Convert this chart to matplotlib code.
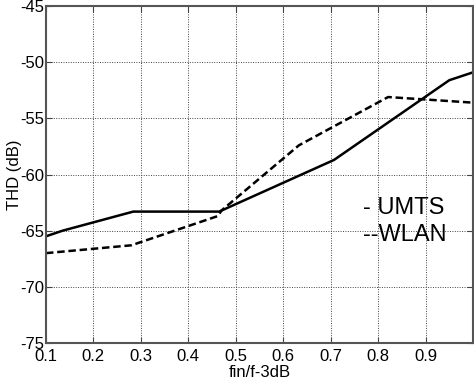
import matplotlib
matplotlib.use("Agg")
import matplotlib.pyplot as plt

plt.rcParams['font.family'] = ['Liberation Sans', 'DejaVu Sans']

umts_x = [0.1, 0.135, 0.284, 0.465, 0.707, 0.95, 1.0]
umts_y = [-65.5, -65.0, -63.3, -63.3, -58.7, -51.6, -50.9]

wlan_x = [0.1, 0.28, 0.462, 0.47, 0.633, 0.821, 1.0]
wlan_y = [-67.0, -66.3, -63.7, -63.2, -57.4, -53.1, -53.6]

xticks = [0.1, 0.2, 0.3, 0.4, 0.5, 0.6, 0.7, 0.8, 0.9]
yticks = [-75, -70, -65, -60, -55, -50, -45]

fig = plt.figure(figsize=(4.74, 3.79), dpi=100)
ax = fig.add_axes([0.097, 0.095, 0.901, 0.889])
ax.plot(umts_x, umts_y, color='black', lw=1.8, solid_joinstyle='miter')
ax.plot(wlan_x, wlan_y, color='black', lw=1.8, linestyle=(0, (3, 1.5)))
ax.set_xlim(0.1, 1.0)
ax.set_ylim(-75, -45)
ax.set_xticks(xticks)
ax.set_xticklabels([f"{t:.1f}" for t in xticks])
ax.set_yticks(yticks)
ax.set_yticklabels([str(t) for t in yticks])
ax.grid(True, linestyle=(0, (1, 1.5)), color='#444444', lw=0.7)
ax.tick_params(direction='in', length=4, labelsize=12, right=True, top=True, color='#444444')
ax.tick_params(axis='x', pad=4)
ax.tick_params(axis='y', pad=1)
for s in ax.spines.values():
    s.set_color('#555555')
    s.set_linewidth(1.5)
ax.set_xlabel('fin/f-3dB', fontsize=12, labelpad=1)
ax.set_ylabel('THD (dB)', fontsize=12, labelpad=-1)
ax.text(0.742, 0.40, '- UMTS', transform=ax.transAxes, fontsize=17, va='center', ha='left')
ax.text(0.742, 0.32, '--WLAN', transform=ax.transAxes, fontsize=17, va='center', ha='left')
fig.savefig('out.png', dpi=100)
